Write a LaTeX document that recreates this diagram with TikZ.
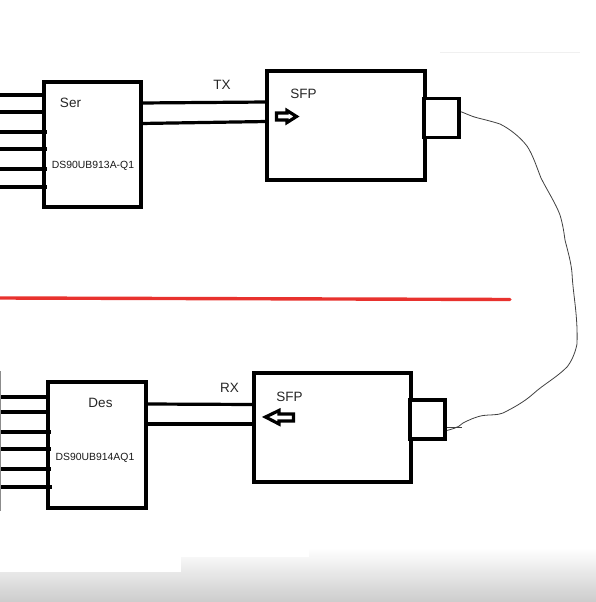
\documentclass[tikz,border=0pt]{standalone}
\usepackage{fontspec}
\setmainfont{Liberation Sans}
\tikzset{
  block/.style={draw=black,line width=3.6pt,fill=white,rectangle,inner sep=0pt,outer sep=0pt,anchor=north west},
  plug/.style={draw=black,line width=3.6pt,fill=white,rectangle,inner sep=0pt,outer sep=0pt,anchor=north west,minimum width=35pt},
  wire/.style={draw=black,line width=3.2pt},
  label/.style={inner sep=0pt,text=black!85,font=\fontsize{13.5}{15}\selectfont},
  partno/.style={inner sep=0pt,text=black!90,font=\fontsize{10.4}{12}\selectfont},
  hollow/.style={draw=black,line width=3.2pt,fill=white,line join=miter},
  cable/.style={draw=black!75,line width=0.8pt,line join=round}
}
\begin{document}
\begin{tikzpicture}[x=1pt,y=-1pt]
\useasboundingbox (0,0) rectangle (596,602);
% greyed lower edge
\shade[top color=white,bottom color=black!20,draw=none] (0,548) rectangle (596,602);
\fill[white] (0,540) rectangle (309,557);
\fill[white] (0,557) rectangle (181,572);
\draw[black!6,line width=1pt] (440,52.5) -- (580,52.5);
\fill[black!45] (0,371) rectangle (1,511);
% red divider
\coordinate (redL) at (0,298);
\coordinate (redR) at (510,299.5);
\draw[draw={rgb,255:red,232;green,50;blue,46},line width=3.4pt,line cap=round] (redL) -- (redR);
% pin ends
\foreach \n/\y in {a/95,b/112,c/132,d/149,e/169,f/187}{\coordinate (ser\n) at (0,\y);}
\foreach \n/\y in {a/397,b/412,c/432,d/449,e/469,f/487}{\coordinate (des\n) at (1,\y);}
% cable below plugs
\node[plug,minimum height=39pt] (plugT) at (424,98.5) {};
\node[plug,minimum height=39pt] (plugR) at (410,400) {};
\draw[cable] (plugT.east |- 0,111) .. controls (465,113) and (470,116) .. (478,118)
  .. controls (486,120) and (494,122) .. (500,124)
  .. controls (510,129) and (520,137) .. (527,146)
  .. controls (533,155) and (537,168) .. (541,178)
  .. controls (547,190) and (556,204) .. (560,215)
  .. controls (563,225) and (564,233) .. (565,240)
  .. controls (568,252) and (571,262) .. (572,273)
  .. controls (573,295) and (578,315) .. (577,344)
  .. controls (575,354) and (571,362) .. (567,367)
  .. controls (556,378) and (544,384) .. (533,394)
  .. controls (524,402) and (513,408) .. (503,413)
  .. controls (497,415.5) and (490,414.5) .. (483,415.5)
  .. controls (475,417) and (469,420) .. (463,423)
  .. controls (458,428) and (452,429) .. (plugR.east |- 0,431);
\coordinate (stub) at (462,427.5);
\draw[cable,line width=0.6pt] (plugR.east |- 0,427.5) -- (stub);
% blocks
\node[block,minimum width=97pt,minimum height=125pt] (ser) at (44,82) {};
\node[block,minimum width=158pt,minimum height=109pt] (sfpT) at (267,71) {};
\node[block,minimum width=98pt,minimum height=126pt] (des) at (48,382) {};
\node[block,minimum width=157pt,minimum height=109pt] (sfpR) at (254,373) {};
\node[plug,minimum height=39pt,fill=white] (plugT) at (424,98.5) {};
\node[plug,minimum height=39pt,fill=white] (plugR) at (410,400) {};
% wires
\foreach \n/\e in {a/44,b/44,c/47,d/47,e/47,f/47}{\draw[wire] (ser\n) -- (\e,0 |- ser\n);}
\foreach \n/\e in {a/48,b/48,c/51,d/51,e/51,f/52}{\draw[wire] (des\n) -- (\e,0 |- des\n);}
\draw[wire] (ser.east |- 0,103) -- (sfpT.west |- 0,102);
\draw[wire] (ser.east |- 0,123.5) -- (sfpT.west |- 0,121.5);
\draw[wire] (des.east |- 0,404) -- (sfpR.west |- 0,404.5);
\draw[wire] (des.east |- 0,424) -- (sfpR.west |- 0,424);
% arrows
\draw[hollow] (276.5,113) -- (287,113) -- (287,110.5) -- (296.5,116.5) -- (287,122.5) -- (287,120) -- (276.5,120) -- cycle;
\draw[hollow] (293.5,414) -- (279,414) -- (279,410.5) -- (265.5,417) -- (279,424) -- (279,421) -- (293.5,421) -- cycle;
% labels
\node[label] (lSer) at (70.5,103) {Ser};
\node[partno] (lSerP) at (93,165.5) {DS90UB913A-Q1};
\node[label] (lTX) at (222,84.5) {TX};
\node[label] (lSfpT) at (303.5,94) {SFP};
\node[label] (lDes) at (100.5,403) {Des};
\node[partno] (lDesP) at (95,457.5) {DS90UB914AQ1};
\node[label] (lRX) at (229.5,388) {RX};
\node[label] (lSfpR) at (289.5,396.5) {SFP};
\end{tikzpicture}
\end{document}
